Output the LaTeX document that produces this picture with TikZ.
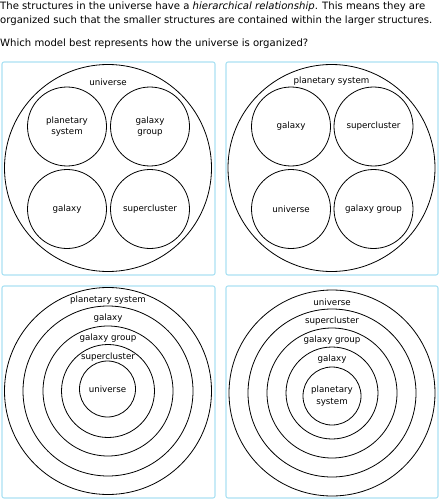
\documentclass[tikz,border=0pt]{standalone}
\usepackage{fontspec}
\setmainfont{DejaVu Sans}[ItalicFont={DejaVu Sans Oblique}]
\definecolor{framecol}{RGB}{170,225,243}
\tikzset{
  panel/.style={draw=framecol, line width=1.1pt, rounded corners=2pt},
  lbl/.style={font=\fontsize{8.7}{11.5}\selectfont, align=center, inner sep=0pt},
  ring/.style={draw, circle, line width=.8pt, lbl},
  prompt/.style={font=\fontsize{10.1}{14}\selectfont, anchor=base west, inner sep=0pt},
}
\begin{document}
\begin{tikzpicture}[x=1pt, y=-1pt]
\useasboundingbox (0,0) rectangle (440,500);
\node[prompt] (intro) at (0,10) {The structures in the universe have a \textit{hierarchical relationship}. This means they are};
\node[prompt] (introB) at (0,24) {organized such that the smaller structures are contained within the larger structures.};
\node[prompt] (question) at (0,47) {Which model best represents how the universe is organized?};
% model A
\draw[panel] (2,62) rectangle ++(213,213);
\node[ring, minimum size=207pt] (uniA) at (108,168) {}; \node[lbl] (uniAtxt) at (108,82) {universe};
\node[ring, minimum size=79pt] (psA) at (67,126.5) {planetary\\system};
\node[ring, minimum size=79pt] (ggA) at (150,126.5) {galaxy\\group};
\node[ring, minimum size=79pt] (gA) at (67,209) {galaxy};
\node[ring, minimum size=79pt] (scA) at (150,209) {supercluster};
% model B
\draw[panel] (226,62) rectangle ++(212,213);
\node[ring, minimum size=207pt] (psB) at (331.5,168) {}; \node[lbl] (psBtxt) at (331.5,81) {planetary system};
\node[ring, minimum size=79pt] (gB) at (291,126.5) {galaxy};
\node[ring, minimum size=79pt] (scB) at (373.5,126.5) {supercluster};
\node[ring, minimum size=79pt] (uniB) at (291,209) {universe};
\node[ring, minimum size=79pt] (ggB) at (373.5,209) {galaxy group};
% model C
\draw[panel] (2,286) rectangle ++(213,212);
\foreach \d/\txt [count=\i] in {207/planetary system,170/galaxy,130/galaxy group,93/supercluster} {
	\node[ring, minimum size={\d pt}] (ringC\i) at (108,391) {};
	\node[lbl] (ringC\i txt) at (108,{391-\d/2+12.5}) {\txt};
}
\node[ring, minimum size=56pt] (uniC) at (107.5,389) {universe};
% model D
\draw[panel] (226,286) rectangle ++(212,212);
\foreach \d/\txt [count=\i] in {206/universe,168/supercluster,130/galaxy group,92/galaxy} {
	\node[ring, minimum size={\d pt}] (ringD\i) at (332,393) {};
	\node[lbl] (ringD\i txt) at (332,{393-\d/2+12.5}) {\txt};
}
\node[ring, minimum size=58pt] (psD) at (332,396) {planetary\\system};
\end{tikzpicture}
\end{document}
